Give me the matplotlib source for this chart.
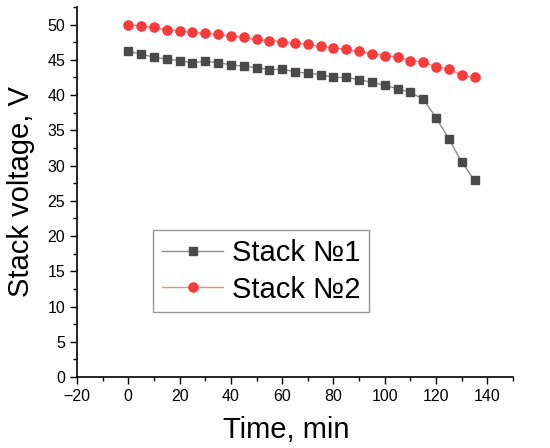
import matplotlib
matplotlib.use("Agg")
import matplotlib.pyplot as plt
from matplotlib.ticker import MultipleLocator

plt.rcParams['font.family'] = ['Liberation Sans', 'DejaVu Sans']

time_min = [0, 5, 10, 15, 20, 25, 30, 35, 40, 45, 50, 55, 60, 65, 70, 75, 80,
            85, 90, 95, 100, 105, 110, 115, 120, 125, 130, 135]
stack1 = [46.2, 45.8, 45.4, 45.1, 44.9, 44.6, 44.8, 44.6, 44.3, 44.1, 43.9, 43.6,
          43.7, 43.3, 43.1, 42.9, 42.5, 42.5, 42.2, 41.8, 41.4, 40.9, 40.4, 39.4,
          36.8, 33.8, 30.5, 27.9]
stack2 = [50.0, 49.8, 49.6, 49.3, 49.1, 48.9, 48.8, 48.6, 48.4, 48.2, 47.9, 47.7,
          47.6, 47.4, 47.2, 46.9, 46.7, 46.5, 46.2, 45.9, 45.6, 45.4, 44.9, 44.7,
          44.0, 43.7, 42.8, 42.5]
labels = ['Stack №1', 'Stack №2']

fig = plt.figure(figsize=(5.5, 4.48), dpi=100)
ax = fig.add_axes([77/550, 1-377/448, (513-77)/550, (377-7)/448])

ax.plot(time_min, stack1, color='#8c8c8c', lw=1.0, marker='s', ms=5.4,
        mfc='#4a4a4a', mec='#4a4a4a', label=labels[0])
ax.plot(time_min, stack2, color='#ff8585', lw=1.0, marker='o', ms=6.6,
        mfc='#f73b3b', mec='#f73b3b', label=labels[1])

ax.set_xlim(-20, 150)
ax.set_ylim(0, 52.5)
ax.xaxis.set_major_locator(MultipleLocator(20))
ax.xaxis.set_minor_locator(MultipleLocator(10))
ax.yaxis.set_major_locator(MultipleLocator(5))
ax.yaxis.set_minor_locator(MultipleLocator(2.5))
ax.tick_params(which='major', direction='out', length=5, width=1, labelsize=11.5)
ax.tick_params(which='minor', direction='out', length=3, width=1)
for s in ['top', 'right']:
    ax.spines[s].set_visible(False)
for s in ['left', 'bottom']:
    ax.spines[s].set_linewidth(1.2)

ax.set_xlabel('Time, min', fontsize=21, labelpad=10)
ax.xaxis.set_label_coords(0.48, -0.105)
ax.set_ylabel('Stack voltage, V', fontsize=21, labelpad=9)

leg = ax.legend(loc='upper left', bbox_to_anchor=(0.175, 0.397), fontsize=21,
                frameon=True, fancybox=False, edgecolor='#7f7f7f',
                handlelength=2.1, handletextpad=0.3, borderpad=0.3,
                labelspacing=0.3, borderaxespad=0)
leg.get_frame().set_linewidth(1.0)

fig.savefig('out.png', dpi=100)
